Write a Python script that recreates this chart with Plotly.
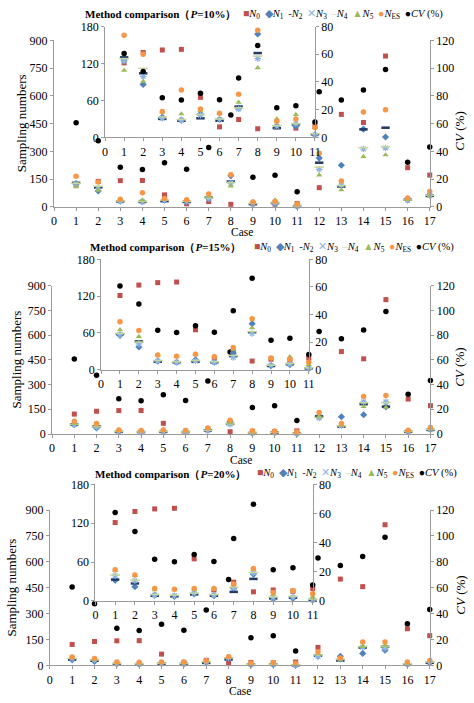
import plotly.graph_objects as go

W, H = 474, 703

# ---------------- data ----------------
cases = list(range(1, 18))
n_inset = 11  # inset shows cases 1-11

CV = [60.6, 47.6, 28.6, 26.9, 31.8, 27.1, 42.8, 66.3, 21.4, 22.8, 11.0,
      83.0, 77.1, 84.2, 99.0, 32.2, 43.2]

N0 = [121, 138, 142, 143, 65, 17, 29, 14, 17, 15, 19, 104, 500, 456, 815, 212, 172]

# P = 10%
N1_10 = [126, 86, 33, 28, 38, 29, 47, 168, 18, 18, 4, 264, 225, 420, 378, 38, 65]
N2_10 = [130, 104, 30, 27, 31, 27, 50, 137, 15, 21, 5, 239, 110, 419, 428, 39, 60]
N3_10 = [124, 99, 31, 28, 36, 29, 46, 128, 18, 22, 4, 203, 118, 313, 318, 36, 62]
N4_10 = [128, 112, 33, 29, 37, 30, 48, 132, 19, 22, 6, 215, 115, 320, 325, 38, 63]
N5_10 = [109, 91, 41, 38, 44, 39, 57, 113, 30, 37, 16, 172, 92, 272, 281, 40, 60]
NES_10 = [166, 135, 42, 77, 46, 39, 70, 174, 26, 30, 16, 290, 140, 513, 525, 48, 83]

# P = 15%
N1_15 = [56, 37, 14, 12, 16, 12, 27, 75, 6, 8, 2, 105, 105, 117, 165, 15, 28]
N2_15 = [58, 46, 13, 12, 13, 12, 22, 61, 6, 9, 2, 107, 45, 181, 166, 14, 25]
N3_15 = [57, 42, 14, 12, 14, 12, 20, 59, 7, 9, 2, 97, 50, 195, 195, 15, 27]
N4_15 = [59, 45, 15, 13, 15, 13, 23, 62, 7, 10, 3, 100, 50, 190, 190, 16, 28]
N5_15 = [65, 54, 24, 22, 25, 22, 33, 68, 18, 21, 8, 107, 52, 166, 162, 18, 30]
NES_15 = [78, 64, 24, 22, 25, 21, 36, 83, 19, 17, 12, 131, 64, 228, 234, 23, 39]

# P = 20%
N1_20 = [32, 22, 9, 7, 11, 8, 19, 41, 3, 4, 1, 55, 52, 69, 88, 6, 14]
N2_20 = [33, 27, 8, 7, 10, 8, 14, 34, 4, 5, 0.5, 56, 28, 103, 107, 6, 15]
N3_20 = [39, 31, 9, 8, 12, 9, 20, 43, 5, 6, 2, 51, 35, 105, 100, 8, 18]
N4_20 = [40, 32, 10, 9, 12, 10, 21, 44, 6, 7, 3, 60, 36, 110, 108, 9, 19]
N5_20 = [47, 39, 17, 17, 18, 18, 25, 49, 10, 15, 6, 69, 35, 109, 116, 14, 24]
NES_20 = [48, 40, 19, 18, 19, 19, 26, 50, 13, 16, 11, 79, 43, 135, 135, 19, 28]

P_labels = ["10%", "15%", "20%"]
series_names = ["N0", "N1", "N2", "N3", "N4", "N5", "NES"]
panel_data = [
    [N0, N1_10, N2_10, N3_10, N4_10, N5_10, NES_10],
    [N0, N1_15, N2_15, N3_15, N4_15, N5_15, NES_15],
    [N0, N1_20, N2_20, N3_20, N4_20, N5_20, NES_20],
]

main_x_ticks = list(range(0, 18))
main_y_ticks = [0, 150, 300, 450, 600, 750, 900]
cv_ticks = [0, 20, 40, 60, 80, 100, 120]
inset_x_ticks = list(range(0, 12))
inset_y_ticks = [0, 60, 120, 180]
inset_cv_ticks = [0, 20, 40, 60, 80]

# ---------------- styles ----------------
FONT = "Liberation Serif"
AX = "#9A9A9A"
styles = {
    "N0": dict(symbol="square", color="#C0504D", size=5),
    "N1": dict(symbol="diamond", color="#4F81BD", size=5.5),
    "N2": dict(symbol="line-ew-open", color="#1F3864", size=6, lw=2.5),
    "N3": dict(symbol="asterisk-open", color="#8DB4E2", size=5.5, lw=1.2),
    "N4": dict(symbol="line-ew-open", color="#C3D69B", size=7, lw=1.5),
    "N5": dict(symbol="triangle-up", color="#9BBB59", size=5.5),
    "NES": dict(symbol="circle", color="#F79646", size=5.5),
}

# pixel geometry for each panel: main (x0, x1, ybottom, ytop), inset likewise
geom = [
    dict(main=(52, 435, 204, 34), inset=(104, 318, 133, 20), title=(82, 8), legend=(243, 8),
         case_y=230, ylab_x=19, cv_x=465),
    dict(main=(50, 435.7, 435.7, 284.3), inset=(100, 311.7, 370, 257.5), title=(87, 245),
         legend=(254, 245), case_y=462, ylab_x=14, cv_x=466),
    dict(main=(47.7, 435, 671.7, 513.3), inset=(94.2, 315.7, 606, 487), title=(92, 477),
         legend=(257, 476), case_y=698, ylab_x=9, cv_x=466),
]


def xd(a, b):
    return [a / W, b / W]


def yd(bot, top):
    return [1 - bot / H, 1 - top / H]


def marker(st):
    if "lw" in st:
        return dict(symbol=st["symbol"], size=st["size"], color=st["color"],
                    line=dict(color=st["color"], width=st["lw"]))
    return dict(symbol=st["symbol"], size=st["size"], color=st["color"], line=dict(width=0))


fig = go.Figure()
layout = dict(width=W, height=H, margin=dict(l=0, r=0, t=0, b=0),
              paper_bgcolor="white", plot_bgcolor="rgba(0,0,0,0)",
              showlegend=False, font=dict(family=FONT, size=12, color="black"))
annotations = []

axis_common = dict(showgrid=False, zeroline=False, showline=True, linecolor=AX, linewidth=1,
                   ticks="outside", ticklen=3, tickcolor=AX, tickwidth=1,
                   tickfont=dict(family=FONT, size=12, color="black"), fixedrange=True)

for p in range(3):
    g = geom[p]
    mx, ix = 2 * p + 1, 2 * p + 2
    yl, yr, iyl, iyr = 4 * p + 1, 4 * p + 2, 4 * p + 3, 4 * p + 4
    sx = lambda i: "x" if i == 1 else f"x{i}"
    sy = lambda i: "y" if i == 1 else f"y{i}"
    kx = lambda i: "xaxis" if i == 1 else f"xaxis{i}"
    ky = lambda i: "yaxis" if i == 1 else f"yaxis{i}"

    m, ins = g["main"], g["inset"]
    layout[kx(mx)] = dict(axis_common, domain=xd(m[0], m[1]), range=[0, 17], tickvals=main_x_ticks,
                          anchor=sy(yl))
    layout[ky(yl)] = dict(axis_common, domain=yd(m[2], m[3]), range=[0, 900], tickvals=main_y_ticks,
                          anchor=sx(mx))
    layout[ky(yr)] = dict(axis_common, range=[0, 120], tickvals=cv_ticks, overlaying=sy(yl),
                          side="right", anchor=sx(mx))
    layout[kx(ix)] = dict(axis_common, domain=xd(ins[0], ins[1]), range=[0, 11], tickvals=inset_x_ticks,
                          anchor=sy(iyl))
    layout[ky(iyl)] = dict(axis_common, domain=yd(ins[2], ins[3]), range=[0, 180], tickvals=inset_y_ticks,
                           anchor=sx(ix))
    layout[ky(iyr)] = dict(axis_common, range=[0, 80], tickvals=inset_cv_ticks, overlaying=sy(iyl),
                           side="right", anchor=sx(ix))

    data = panel_data[p]
    # main plot
    for name, vals in zip(series_names, data):
        fig.add_trace(go.Scatter(x=cases, y=vals, mode="markers", marker=marker(styles[name]),
                                 xaxis=sx(mx), yaxis=sy(yl), cliponaxis=False, hoverinfo="skip"))
    fig.add_trace(go.Scatter(x=cases, y=CV, mode="markers",
                             marker=dict(symbol="circle", size=5.5, color="black"),
                             xaxis=sx(mx), yaxis=sy(yr), cliponaxis=False, hoverinfo="skip"))
    # inset
    for name, vals in zip(series_names, data):
        fig.add_trace(go.Scatter(x=cases[:n_inset], y=vals[:n_inset], mode="markers",
                                 marker=marker(styles[name]),
                                 xaxis=sx(ix), yaxis=sy(iyl), cliponaxis=False, hoverinfo="skip"))
    fig.add_trace(go.Scatter(x=cases[:n_inset], y=CV[:n_inset], mode="markers",
                             marker=dict(symbol="circle", size=5.5, color="black"),
                             xaxis=sx(ix), yaxis=sy(iyr), cliponaxis=False, hoverinfo="skip"))

    # texts
    annotations.append(dict(text=f"<b>Method comparison（<i>P</i>=%s）</b>" % P_labels[p],
                            xref="paper", yref="paper", x=g["title"][0] / W, y=1 - g["title"][1] / H,
                            xanchor="left", yanchor="middle", showarrow=False,
                            font=dict(family=FONT, size=11, color="black")))

    def sym(c, s):
        return f'<span style="color:{c}">{s}</span>'
    sp = "\u00a0\u2009"
    leg = (sym("#C0504D", "■") + "<i>N</i><sub>0</sub>" + sp +
           sym("#4F81BD", "◆") + "<i>N</i><sub>1</sub>" + sp +
           sym("#1F3864", "<b>-</b>") + "<i>N</i><sub>2</sub>" + sp +
           sym("#8DB4E2", "✕") + "<i>N</i><sub>3</sub>" + sp +
           sym("#C3D69B", "–") + "<i>N</i><sub>4</sub>" + sp +
           sym("#9BBB59", "▲") + "<i>N</i><sub>5</sub>" + sp +
           sym("#F79646", "●") + "<i>N</i><sub>ES</sub>" + sp +
           sym("black", "●") + "<i>CV</i> (%)")
    annotations.append(dict(text=leg, xref="paper", yref="paper", x=g["legend"][0] / W,
                            y=1 - g["legend"][1] / H, xanchor="left", yanchor="middle",
                            showarrow=False, font=dict(family=FONT, size=10.5, color="black")))
    annotations.append(dict(text="Case", xref="paper", yref="paper", x=((m[0] + m[1]) / 2) / W,
                            y=1 - g["case_y"] / H, xanchor="center", yanchor="middle",
                            showarrow=False, font=dict(family=FONT, size=11.5, color="black")))
    annotations.append(dict(text="Sampling numbers", xref="paper", yref="paper", x=g["ylab_x"] / W,
                            y=1 - ((m[2] + m[3]) / 2) / H, xanchor="center", yanchor="middle",
                            textangle=-90, showarrow=False, font=dict(family=FONT, size=13, color="black")))
    annotations.append(dict(text="<i>CV</i> (%)", xref="paper", yref="paper", x=g["cv_x"] / W,
                            y=1 - ((m[2] + m[3]) / 2 + 8) / H, xanchor="center", yanchor="middle",
                            textangle=-90, showarrow=False, font=dict(family=FONT, size=13, color="black")))

layout["annotations"] = annotations
fig.update_layout(**layout)
fig.write_html("out.html")
